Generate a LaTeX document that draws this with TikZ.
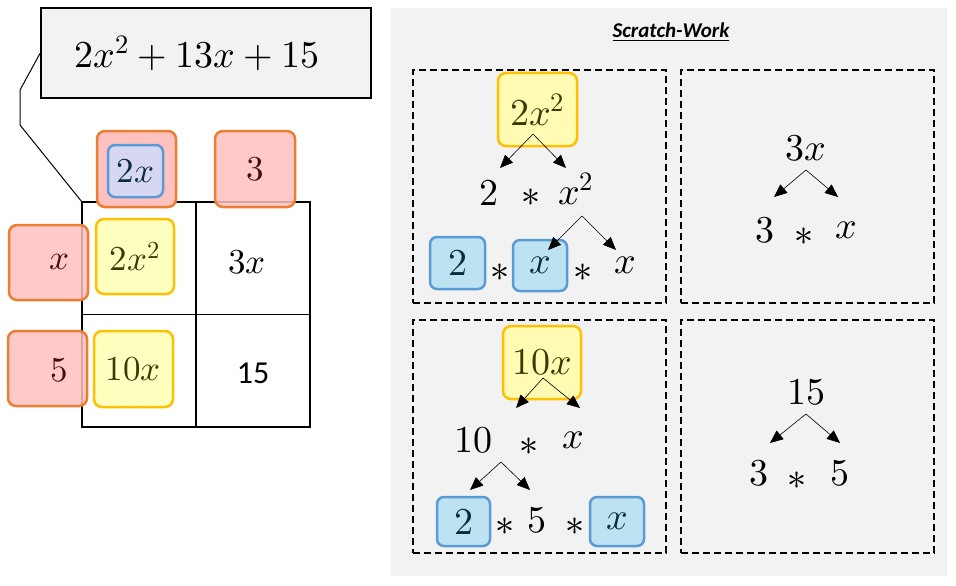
\documentclass[tikz,border=0pt]{standalone}
\usepackage{fontspec}
\usepackage{unicode-math}
\setmainfont{Carlito}
\setmathfont{Latin Modern Math}
\usetikzlibrary{arrows.meta}
\definecolor{panel}{HTML}{F2F2F2}
\definecolor{pinkf}{HTML}{FFC0C0}
\definecolor{orng}{HTML}{ED7D31}
\definecolor{yelf}{HTML}{FFFFC0}
\definecolor{yelb}{HTML}{FFC000}
\definecolor{bluef}{HTML}{BDE3F2}
\definecolor{blueb}{HTML}{5B9BD5}
\definecolor{yeltxt}{HTML}{3A3A05}
\definecolor{bluetxt}{HTML}{0A2E3E}
\definecolor{redtxt}{HTML}{4A0A0A}
\tikzset{
  pinkbox/.style={draw=orng,fill=pinkf,line width=2.5pt,rounded corners=8pt},
  yelbox/.style={draw=yelb,fill=yelf,line width=2.5pt,rounded corners=8pt},
  bluebox/.style={draw=blueb,fill=bluef,line width=2.5pt,rounded corners=7pt},
  dbox/.style={draw,dash pattern=on 7pt off 4pt,line width=1.2pt},
  big/.style={font=\fontsize{38}{44}\selectfont},
  mid/.style={font=\fontsize{35}{40}\selectfont},
  arr/.style={-{Triangle[length=13pt,width=11pt]},line width=0.6pt},
  txt/.style={inner sep=0pt}
}
\begin{document}
\begin{tikzpicture}[x=1pt,y=-1pt]
\useasboundingbox (0,0) rectangle (956,586);
% left
\node[draw,fill=panel,line width=1.5pt,minimum width=330pt,minimum height=90pt] (poly) at (206,53) {};
\node[big,txt] (polyt) at (197,53) {$2x^2+13x+15$};
\coordinate (c1) at (20,90); \coordinate (c2) at (20,125);
\draw[line width=1pt] (poly.west) -- (c1) -- (c2) -- (82,202);
\node[draw,line width=1.5pt,minimum width=228pt,minimum height=225pt] (grid) at (196,314.5) {};
\draw[line width=1.5pt] (grid.north) -- (grid.south) (grid.west) -- (grid.east);
\node[pinkbox,minimum width=79pt,minimum height=76pt] (c2x) at (136.5,169) {};
\node[bluebox,fill=gray!45!blue!20,minimum width=55pt,minimum height=52pt,mid,text=bluetxt,inner sep=0pt] (c2xin) at (135.5,171) {$2x$};
\node[pinkbox,fill opacity=.85,text opacity=1,minimum width=80pt,minimum height=76pt,mid,text=redtxt] (c3) at (255,169) {$3$};
\node[pinkbox,fill opacity=.85,minimum width=79pt,minimum height=75pt] (rx) at (48.5,262.5) {};
\node[mid,txt,text=redtxt] (rxt) at (60,262) {$x$};
\node[pinkbox,fill opacity=.85,minimum width=79pt,minimum height=75pt] (r5) at (47.5,368.5) {};
\node[mid,txt,text=redtxt] (r5t) at (59,370) {$5$};
\node[yelbox,minimum width=78pt,minimum height=75pt,mid,text=yeltxt,inner sep=0pt] (g1) at (135,256.5) {$2x^2$};
\node[yelbox,minimum width=79pt,minimum height=76pt,mid,text=yeltxt,inner sep=0pt] (g2) at (133.5,369) {$10x$};
\node[mid,txt] (g3) at (247,262) {$3x$};
\node[txt,font=\fontsize{32}{38}\selectfont] (g4) at (253,373) {15};
% right panel
\node[fill=panel,minimum width=556pt,minimum height=568pt] (pan) at (669,292) {};
\node[txt,font=\fontsize{21}{24}\selectfont\bfseries\itshape] (title) at (671,32) {\underline{Scratch-Work}};
\node[dbox,minimum width=253pt,minimum height=233pt] (b1) at (539.5,186.5) {};
\node[dbox,minimum width=253pt,minimum height=233pt] (b2) at (807.5,186.5) {};
\node[dbox,minimum width=253pt,minimum height=233pt] (b3) at (539.5,436.5) {};
\node[dbox,minimum width=253pt,minimum height=233pt] (b4) at (807.5,436.5) {};
% box1
\node[yelbox,fill=yellow!30,minimum width=79pt,minimum height=73pt,big,text=yeltxt,inner sep=0pt] (a) at (537.5,109.5) {$2x^2$};
\coordinate (a0) at (533,134);
\node[big,txt] (a1) at (489,193) {$2$};
\node[big,txt] (a2) at (531,198) {$*$};
\node[big,txt] (a3) at (576,189) {$x^2$};
\draw[arr] (a0) -- (500,168); \draw[arr] (a0) -- (566,168);
\coordinate (a30) at (582,216);
\node[bluebox,minimum width=55pt,minimum height=52pt,big,text=bluetxt] (a4) at (457.5,263) {$2$};
\node[big,txt] (a5) at (500,273) {$*$};
\node[bluebox,minimum width=54pt,minimum height=51pt,big,text=bluetxt] (a6) at (540,265.5) {$x$};
\node[big,txt] (a7) at (583,273) {$*$};
\node[big,txt] (a8) at (625,265) {$x$};
\draw[arr] (a30) -- (548,250); \draw[arr] (a30) -- (616,250);
% box2
\node[big,txt] (b21) at (806,148) {$3x$};
\coordinate (b20) at (806,170);
\node[big,txt] (b22) at (765,230) {$3$};
\node[big,txt] (b23) at (804,237) {$*$};
\node[big,txt] (b24) at (846,230) {$x$};
\draw[arr] (b20) -- (774,197); \draw[arr] (b20) -- (838,197);
% box3
\node[yelbox,fill=yellow!30,minimum width=78pt,minimum height=73pt,big,text=yeltxt,inner sep=0pt] (c) at (542,362.5) {$10x$};
\coordinate (c0) at (543,378);
\draw[arr] (c0) -- (516,408); \draw[arr] (c0) -- (580,408);
\node[big,txt] (c1n) at (473,440) {$10$};
\node[big,txt] (c2n) at (529,447) {$*$};
\node[big,txt] (c3n) at (573,440) {$x$};
\coordinate (c10) at (501,462);
\draw[arr] (c10) -- (470,490); \draw[arr] (c10) -- (530,490);
\node[bluebox,minimum width=53pt,minimum height=49pt,big,text=bluetxt] (c4) at (463.5,521.5) {$2$};
\node[big,txt] (c5) at (505,527) {$*$};
\node[big,txt] (c6) at (537,520) {$5$};
\node[big,txt] (c7) at (575,527) {$*$};
\node[bluebox,minimum width=54pt,minimum height=49pt,big,text=bluetxt] (c8) at (617,521.5) {$x$};
% box4
\node[big,txt] (d1) at (806,392) {$15$};
\coordinate (d0) at (806,414);
\draw[arr] (d0) -- (770,443); \draw[arr] (d0) -- (840,443);
\node[big,txt] (d2) at (759,473) {$3$};
\node[big,txt] (d3) at (797,481) {$*$};
\node[big,txt] (d4) at (840,473) {$5$};
\end{tikzpicture}
\end{document}
